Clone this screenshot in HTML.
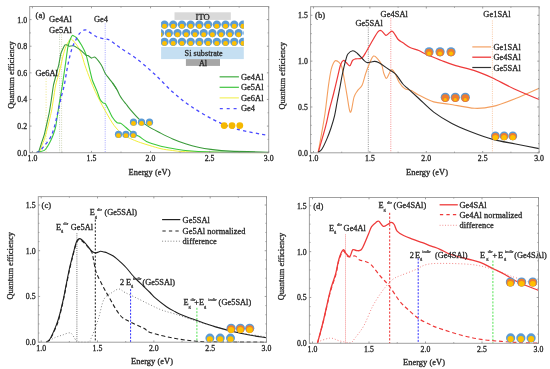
<!DOCTYPE html><html><head><meta charset="utf-8"><style>html,body{margin:0;padding:0;background:#fff;}svg{display:block;filter:blur(0.3px);}</style></head><body>
<svg width="550" height="369" viewBox="0 0 550 369" font-family='"Liberation Serif", serif'>
<style>text{stroke:#262626;stroke-width:0.3px;letter-spacing:0.05px;}</style>
<rect width="550" height="369" fill="#fff"/>
<rect x="174.5" y="12.3" width="56.3" height="7.6" fill="#d9d9d9"/>
<text x="202.7" y="16.70" font-size="8.6" text-anchor="middle" fill="#2a2a2a" dominant-baseline="central" >ITO</text>
<rect x="161.1" y="20" width="82.7" height="27" fill="#ffffff"/>
<clipPath id="inclip"><rect x="161.1" y="20" width="82.7" height="27.2"/></clipPath>
<g clip-path="url(#inclip)">
<circle cx="164.50" cy="24.6" r="4.15" fill="#5b9bd5"/>
<circle cx="164.50" cy="26.20" r="2.45" fill="#ffc000"/>
<circle cx="173.22" cy="24.6" r="4.15" fill="#5b9bd5"/>
<circle cx="173.22" cy="26.20" r="2.45" fill="#ffc000"/>
<circle cx="181.94" cy="24.6" r="4.15" fill="#5b9bd5"/>
<circle cx="181.94" cy="26.20" r="2.45" fill="#ffc000"/>
<circle cx="190.66" cy="24.6" r="4.15" fill="#5b9bd5"/>
<circle cx="190.66" cy="26.20" r="2.45" fill="#ffc000"/>
<circle cx="199.38" cy="24.6" r="4.15" fill="#5b9bd5"/>
<circle cx="199.38" cy="26.20" r="2.45" fill="#ffc000"/>
<circle cx="208.10" cy="24.6" r="4.15" fill="#5b9bd5"/>
<circle cx="208.10" cy="26.20" r="2.45" fill="#ffc000"/>
<circle cx="216.82" cy="24.6" r="4.15" fill="#5b9bd5"/>
<circle cx="216.82" cy="26.20" r="2.45" fill="#ffc000"/>
<circle cx="225.54" cy="24.6" r="4.15" fill="#5b9bd5"/>
<circle cx="225.54" cy="26.20" r="2.45" fill="#ffc000"/>
<circle cx="234.26" cy="24.6" r="4.15" fill="#5b9bd5"/>
<circle cx="234.26" cy="26.20" r="2.45" fill="#ffc000"/>
<circle cx="242.98" cy="24.6" r="4.15" fill="#5b9bd5"/>
<circle cx="242.98" cy="26.20" r="2.45" fill="#ffc000"/>
<circle cx="251.70" cy="24.6" r="4.15" fill="#5b9bd5"/>
<circle cx="251.70" cy="26.20" r="2.45" fill="#ffc000"/>
<circle cx="160.10" cy="33.1" r="4.15" fill="#5b9bd5"/>
<circle cx="160.10" cy="34.70" r="2.45" fill="#ffc000"/>
<circle cx="168.82" cy="33.1" r="4.15" fill="#5b9bd5"/>
<circle cx="168.82" cy="34.70" r="2.45" fill="#ffc000"/>
<circle cx="177.54" cy="33.1" r="4.15" fill="#5b9bd5"/>
<circle cx="177.54" cy="34.70" r="2.45" fill="#ffc000"/>
<circle cx="186.26" cy="33.1" r="4.15" fill="#5b9bd5"/>
<circle cx="186.26" cy="34.70" r="2.45" fill="#ffc000"/>
<circle cx="194.98" cy="33.1" r="4.15" fill="#5b9bd5"/>
<circle cx="194.98" cy="34.70" r="2.45" fill="#ffc000"/>
<circle cx="203.70" cy="33.1" r="4.15" fill="#5b9bd5"/>
<circle cx="203.70" cy="34.70" r="2.45" fill="#ffc000"/>
<circle cx="212.42" cy="33.1" r="4.15" fill="#5b9bd5"/>
<circle cx="212.42" cy="34.70" r="2.45" fill="#ffc000"/>
<circle cx="221.14" cy="33.1" r="4.15" fill="#5b9bd5"/>
<circle cx="221.14" cy="34.70" r="2.45" fill="#ffc000"/>
<circle cx="229.86" cy="33.1" r="4.15" fill="#5b9bd5"/>
<circle cx="229.86" cy="34.70" r="2.45" fill="#ffc000"/>
<circle cx="238.58" cy="33.1" r="4.15" fill="#5b9bd5"/>
<circle cx="238.58" cy="34.70" r="2.45" fill="#ffc000"/>
<circle cx="247.30" cy="33.1" r="4.15" fill="#5b9bd5"/>
<circle cx="247.30" cy="34.70" r="2.45" fill="#ffc000"/>
<circle cx="164.50" cy="41.8" r="4.15" fill="#5b9bd5"/>
<circle cx="164.50" cy="43.40" r="2.45" fill="#ffc000"/>
<circle cx="173.22" cy="41.8" r="4.15" fill="#5b9bd5"/>
<circle cx="173.22" cy="43.40" r="2.45" fill="#ffc000"/>
<circle cx="181.94" cy="41.8" r="4.15" fill="#5b9bd5"/>
<circle cx="181.94" cy="43.40" r="2.45" fill="#ffc000"/>
<circle cx="190.66" cy="41.8" r="4.15" fill="#5b9bd5"/>
<circle cx="190.66" cy="43.40" r="2.45" fill="#ffc000"/>
<circle cx="199.38" cy="41.8" r="4.15" fill="#5b9bd5"/>
<circle cx="199.38" cy="43.40" r="2.45" fill="#ffc000"/>
<circle cx="208.10" cy="41.8" r="4.15" fill="#5b9bd5"/>
<circle cx="208.10" cy="43.40" r="2.45" fill="#ffc000"/>
<circle cx="216.82" cy="41.8" r="4.15" fill="#5b9bd5"/>
<circle cx="216.82" cy="43.40" r="2.45" fill="#ffc000"/>
<circle cx="225.54" cy="41.8" r="4.15" fill="#5b9bd5"/>
<circle cx="225.54" cy="43.40" r="2.45" fill="#ffc000"/>
<circle cx="234.26" cy="41.8" r="4.15" fill="#5b9bd5"/>
<circle cx="234.26" cy="43.40" r="2.45" fill="#ffc000"/>
<circle cx="242.98" cy="41.8" r="4.15" fill="#5b9bd5"/>
<circle cx="242.98" cy="43.40" r="2.45" fill="#ffc000"/>
<circle cx="251.70" cy="41.8" r="4.15" fill="#5b9bd5"/>
<circle cx="251.70" cy="43.40" r="2.45" fill="#ffc000"/>
</g>
<rect x="161.1" y="47" width="82.7" height="12.1" fill="#c5dff2"/>
<text x="203.7" y="53.40" font-size="8.1" text-anchor="middle" fill="#2a2a2a" dominant-baseline="central" >Si substrate</text>
<rect x="185.9" y="59.1" width="34.1" height="6.8" fill="#a6a6a6"/>
<text x="203" y="63.00" font-size="8.0" text-anchor="middle" fill="#2a2a2a" dominant-baseline="central" >Al</text>
<line x1="46.1" y1="78.5" x2="46.1" y2="152.7" stroke="#e8e070" stroke-width="0.8" stroke-dasharray="1,1.6"/>
<line x1="59.6" y1="34.5" x2="59.6" y2="152.7" stroke="#b0c0a0" stroke-width="0.8" stroke-dasharray="0.9,1.4"/>
<line x1="61.6" y1="34.5" x2="61.6" y2="152.7" stroke="#c0c8a0" stroke-width="0.8" stroke-dasharray="0.9,1.4"/>
<line x1="105.2" y1="23.5" x2="105.2" y2="152.7" stroke="#8080ff" stroke-width="0.7" stroke-dasharray="1,1.2"/>
<path d="M36.40,152.50 C36.83,152.37 38.79,152.63 39.60,151.50 C40.41,150.37 41.74,146.04 42.50,144.00 C43.26,141.96 44.17,140.28 45.30,136.20 C46.43,132.12 49.93,118.23 51.00,113.40 C52.07,108.57 52.67,103.79 53.30,100.00 C53.93,96.21 55.01,88.33 55.70,85.00 C56.39,81.67 57.79,77.67 58.50,75.00 C59.21,72.33 60.40,67.53 61.00,65.00 C61.60,62.47 62.36,58.43 63.00,56.00 C63.64,53.57 65.07,48.73 65.80,46.80 C66.53,44.87 67.77,42.54 68.50,41.50 C69.23,40.46 70.13,38.44 71.30,39.00 C72.47,39.56 75.93,43.65 77.30,45.70 C78.67,47.75 80.59,51.80 81.60,54.40 C82.61,57.00 83.73,61.79 84.90,65.20 C86.07,68.61 89.03,76.51 90.40,80.00 C91.77,83.49 93.80,88.36 95.20,91.40 C96.60,94.44 99.38,99.89 100.90,102.80 C102.42,105.71 104.83,110.16 106.60,113.20 C108.37,116.24 111.92,122.68 114.20,125.60 C116.48,128.52 120.50,132.94 123.70,135.10 C126.90,137.26 133.36,140.01 138.20,141.80 C143.04,143.59 155.40,147.34 160.00,148.50 C164.60,149.66 169.30,150.07 172.70,150.50 C176.10,150.93 177.86,151.43 185.50,151.70 C193.14,151.97 218.91,152.38 230.00,152.50 C241.09,152.62 263.54,152.59 268.70,152.60" fill="none" stroke="#f2ef3a" stroke-width="1.0" stroke-linejoin="round" opacity="1"/>
<path d="M36.40,152.50 C36.64,152.45 39.47,151.94 40.00,151.80 C40.53,151.66 43.90,150.75 44.40,150.40 C44.90,150.05 47.06,147.19 47.50,146.50 C47.94,145.81 50.60,140.83 51.00,140.00 C51.40,139.17 53.19,134.89 53.50,134.00 C53.81,133.11 55.36,128.45 55.70,126.70 C56.04,124.95 58.28,109.75 58.60,107.70 C58.92,105.65 60.25,97.51 60.50,96.00 C60.75,94.49 62.15,86.60 62.40,85.00 C62.65,83.40 64.11,73.32 64.30,72.00 C64.49,70.68 65.07,66.80 65.30,65.20 C65.53,63.60 67.39,49.68 67.70,48.00 C68.01,46.32 69.69,40.84 70.00,40.00 C70.31,39.16 71.99,35.57 72.40,35.40 C72.81,35.23 75.59,36.85 76.20,37.50 C76.81,38.15 80.95,44.07 81.60,45.20 C82.25,46.33 85.53,53.07 86.00,54.40 C86.47,55.73 88.28,63.49 88.70,65.20 C89.12,66.91 91.74,78.25 92.30,80.00 C92.86,81.75 96.59,90.11 97.10,91.40 C97.61,92.69 99.61,98.53 100.00,99.30 C100.39,100.07 102.63,102.60 103.00,102.90 C103.37,103.20 105.13,103.35 105.50,103.80 C105.87,104.25 108.05,108.72 108.50,109.60 C108.95,110.48 111.63,116.12 112.20,117.00 C112.77,117.88 116.53,122.38 117.10,122.80 C117.67,123.22 120.21,123.08 120.70,123.30 C121.19,123.52 123.83,125.63 124.40,126.10 C124.97,126.57 128.49,129.79 129.30,130.40 C130.11,131.01 135.89,134.76 136.60,135.20 C137.31,135.64 139.30,136.56 140.00,137.00 C140.70,137.44 145.77,141.20 147.10,141.80 C148.43,142.40 158.29,145.55 160.00,146.00 C161.71,146.45 171.00,148.20 172.70,148.50 C174.40,148.80 183.80,150.30 185.50,150.50 C187.20,150.70 195.23,151.37 198.20,151.50 C201.17,151.63 225.30,152.33 230.00,152.40 C234.70,152.47 266.12,152.49 268.70,152.50" fill="none" stroke="#3cc83c" stroke-width="1.1" stroke-linejoin="round" opacity="1"/>
<path d="M36.40,152.50 C36.52,152.45 38.45,151.97 38.70,151.50 C38.96,151.03 41.22,143.86 41.50,143.00 C41.78,142.14 44.02,135.78 44.40,134.30 C44.78,132.82 48.76,115.12 49.10,113.40 C49.45,111.69 51.08,101.42 51.30,100.00 C51.52,98.58 53.13,86.74 53.50,85.00 C53.87,83.26 58.33,66.78 58.70,65.20 C59.07,63.62 60.60,54.41 60.90,53.40 C61.20,52.39 64.38,45.52 64.70,45.10 C65.03,44.68 67.18,44.95 67.40,45.00 C67.62,45.05 68.80,46.16 69.10,46.20 C69.40,46.24 72.99,45.71 73.40,45.80 C73.81,45.88 76.94,47.68 77.30,47.90 C77.66,48.12 80.06,49.73 80.50,50.10 C80.94,50.47 85.62,55.03 86.00,55.30 C86.38,55.57 87.72,55.36 88.00,55.50 C88.28,55.64 91.29,58.02 91.60,58.10 C91.91,58.18 93.99,57.02 94.20,57.00 C94.41,56.98 95.57,57.58 95.80,57.80 C96.03,58.02 98.52,60.94 98.80,61.30 C99.08,61.66 101.11,64.69 101.30,65.00 C101.49,65.31 102.39,67.16 102.60,67.60 C102.80,68.04 104.91,73.03 105.40,73.80 C105.90,74.56 111.93,82.12 112.50,82.90 C113.07,83.68 116.58,89.08 116.80,89.40" fill="none" stroke="#3a9a3a" stroke-width="1.1" stroke-linejoin="round" opacity="1"/>
<path d="M112.50,82.90 C113.22,83.98 115.53,87.22 116.80,89.40 C118.07,91.58 119.10,94.23 120.10,96.00 C121.10,97.77 121.82,98.67 122.80,100.00 C123.78,101.33 124.80,102.48 126.00,104.00 C127.20,105.52 127.82,106.58 130.00,109.10 C132.18,111.62 136.07,116.22 139.10,119.10 C142.13,121.98 144.72,124.12 148.20,126.40 C151.68,128.68 155.92,130.70 160.00,132.80 C164.08,134.90 168.45,137.17 172.70,139.00 C176.95,140.83 181.25,142.42 185.50,143.80 C189.75,145.18 193.97,146.37 198.20,147.30 C202.43,148.23 205.60,148.77 210.90,149.40 C216.20,150.03 220.37,150.63 230.00,151.10 C239.63,151.57 262.25,152.02 268.70,152.20" fill="none" stroke="#3a9a3a" stroke-width="1.1" stroke-linejoin="round" opacity="1"/>
<path d="M36.40,152.50 C36.93,152.32 38.27,152.53 39.60,151.40 C40.93,150.27 42.65,147.92 44.40,145.70 C46.15,143.48 48.52,140.95 50.10,138.10 C51.68,135.25 52.65,132.72 53.90,128.60 C55.15,124.48 56.35,118.77 57.60,113.40 C58.85,108.03 60.28,101.13 61.40,96.40 C62.52,91.67 63.20,90.35 64.30,85.00 C65.40,79.65 66.75,70.30 68.00,64.30 C69.25,58.30 70.62,52.82 71.80,49.00 C72.98,45.18 73.83,43.95 75.10,41.40 C76.37,38.85 77.77,35.62 79.40,33.70 C81.03,31.78 83.25,30.17 84.90,29.90 C86.55,29.63 87.30,30.92 89.30,32.10 C91.30,33.28 94.37,35.88 96.90,37.00 C99.43,38.12 102.32,38.25 104.50,38.80 C106.68,39.35 107.42,38.82 110.00,40.30 C112.58,41.78 115.60,44.65 120.00,47.70 C124.40,50.75 130.65,54.20 136.40,58.60 C142.15,63.00 148.45,68.53 154.50,74.10 C160.55,79.67 166.70,86.68 172.70,92.00 C178.70,97.32 183.73,101.40 190.50,106.00 C197.27,110.60 205.72,115.80 213.30,119.60 C220.88,123.40 226.77,126.13 236.00,128.80 C245.23,131.47 263.25,134.47 268.70,135.60" fill="none" stroke="#4848ff" stroke-width="1.3" stroke-dasharray="3.2,3.2" stroke-linejoin="round" opacity="1"/>
<circle cx="118.50" cy="134.40" r="3.6" fill="#5b9bd5"/>
<circle cx="118.50" cy="135.60" r="2.45" fill="#ffc000"/>
<circle cx="125.90" cy="134.40" r="3.6" fill="#5b9bd5"/>
<circle cx="125.90" cy="135.60" r="2.45" fill="#ffc000"/>
<circle cx="133.30" cy="134.40" r="3.6" fill="#5b9bd5"/>
<circle cx="133.30" cy="135.60" r="2.45" fill="#ffc000"/>
<circle cx="133.50" cy="122.20" r="3.6" fill="#5b9bd5"/>
<circle cx="133.50" cy="123.40" r="2.45" fill="#ffc000"/>
<circle cx="141.50" cy="122.20" r="3.6" fill="#5b9bd5"/>
<circle cx="141.50" cy="123.40" r="2.45" fill="#ffc000"/>
<circle cx="149.50" cy="122.20" r="3.6" fill="#5b9bd5"/>
<circle cx="149.50" cy="123.40" r="2.45" fill="#ffc000"/>
<circle cx="224.20" cy="125.60" r="3.4" fill="#f5b800"/>
<circle cx="232.00" cy="125.60" r="3.4" fill="#f5b800"/>
<circle cx="239.80" cy="125.60" r="3.4" fill="#f5b800"/>
<line x1="219.6" y1="76.8" x2="238.9" y2="76.8" stroke="#5cb85c" stroke-width="1.4"/>
<line x1="219.6" y1="87.3" x2="238.9" y2="87.3" stroke="#40c440" stroke-width="1.2"/>
<line x1="219.6" y1="97.9" x2="238.9" y2="97.9" stroke="#f0ee40" stroke-width="1.0"/>
<line x1="219.8" y1="108.6" x2="237.5" y2="108.6" stroke="#5050ff" stroke-width="1.3" stroke-dasharray="3,3.9"/>
<text x="241" y="77.30" font-size="8.4" text-anchor="start" fill="#2a2a2a" dominant-baseline="central" >Ge4Al</text>
<text x="241" y="87.80" font-size="8.4" text-anchor="start" fill="#2a2a2a" dominant-baseline="central" >Ge5Al</text>
<text x="241" y="98.40" font-size="8.4" text-anchor="start" fill="#2a2a2a" dominant-baseline="central" >Ge6Al</text>
<text x="241" y="108.90" font-size="8.4" text-anchor="start" fill="#2a2a2a" dominant-baseline="central" >Ge4</text>
<text x="35.5" y="14.90" font-size="8.6" text-anchor="start" fill="#2a2a2a" dominant-baseline="central" >(a)</text>
<text x="49.0" y="19.20" font-size="8.5" text-anchor="start" fill="#2a2a2a" dominant-baseline="central" >Ge4Al</text>
<text x="49.0" y="29.60" font-size="8.5" text-anchor="start" fill="#2a2a2a" dominant-baseline="central" >Ge5Al</text>
<text x="94" y="19.20" font-size="8.4" text-anchor="start" fill="#2a2a2a" dominant-baseline="central" >Ge4</text>
<text x="35.4" y="73.80" font-size="8.4" text-anchor="start" fill="#2a2a2a" dominant-baseline="central" >Ge6Al</text>
<rect x="29.7" y="6.5" width="239.0" height="146.2" fill="none" stroke="#a0a0a0" stroke-width="1"/>
<line x1="32.40" y1="152.7" x2="32.40" y2="150.89999999999998" stroke="#888" stroke-width="0.8"/>
<line x1="32.40" y1="6.5" x2="32.40" y2="8.3" stroke="#888" stroke-width="0.8"/>
<text x="32.40" y="158.70" font-size="7.8" text-anchor="middle" fill="#2a2a2a" dominant-baseline="central" >1.0</text>
<line x1="61.94" y1="152.7" x2="61.94" y2="151.6" stroke="#888" stroke-width="0.8"/>
<line x1="61.94" y1="6.5" x2="61.94" y2="7.6" stroke="#888" stroke-width="0.8"/>
<line x1="91.47" y1="152.7" x2="91.47" y2="150.89999999999998" stroke="#888" stroke-width="0.8"/>
<line x1="91.47" y1="6.5" x2="91.47" y2="8.3" stroke="#888" stroke-width="0.8"/>
<text x="91.47" y="158.70" font-size="7.8" text-anchor="middle" fill="#2a2a2a" dominant-baseline="central" >1.5</text>
<line x1="121.01" y1="152.7" x2="121.01" y2="151.6" stroke="#888" stroke-width="0.8"/>
<line x1="121.01" y1="6.5" x2="121.01" y2="7.6" stroke="#888" stroke-width="0.8"/>
<line x1="150.55" y1="152.7" x2="150.55" y2="150.89999999999998" stroke="#888" stroke-width="0.8"/>
<line x1="150.55" y1="6.5" x2="150.55" y2="8.3" stroke="#888" stroke-width="0.8"/>
<text x="150.55" y="158.70" font-size="7.8" text-anchor="middle" fill="#2a2a2a" dominant-baseline="central" >2.0</text>
<line x1="180.09" y1="152.7" x2="180.09" y2="151.6" stroke="#888" stroke-width="0.8"/>
<line x1="180.09" y1="6.5" x2="180.09" y2="7.6" stroke="#888" stroke-width="0.8"/>
<line x1="209.63" y1="152.7" x2="209.63" y2="150.89999999999998" stroke="#888" stroke-width="0.8"/>
<line x1="209.63" y1="6.5" x2="209.63" y2="8.3" stroke="#888" stroke-width="0.8"/>
<text x="209.63" y="158.70" font-size="7.8" text-anchor="middle" fill="#2a2a2a" dominant-baseline="central" >2.5</text>
<line x1="239.16" y1="152.7" x2="239.16" y2="151.6" stroke="#888" stroke-width="0.8"/>
<line x1="239.16" y1="6.5" x2="239.16" y2="7.6" stroke="#888" stroke-width="0.8"/>
<line x1="268.70" y1="152.7" x2="268.70" y2="150.89999999999998" stroke="#888" stroke-width="0.8"/>
<line x1="268.70" y1="6.5" x2="268.70" y2="8.3" stroke="#888" stroke-width="0.8"/>
<text x="268.70" y="158.70" font-size="7.8" text-anchor="middle" fill="#2a2a2a" dominant-baseline="central" >3.0</text>
<line x1="29.7" y1="152.70" x2="31.5" y2="152.70" stroke="#888" stroke-width="0.8"/>
<line x1="268.7" y1="152.70" x2="266.9" y2="152.70" stroke="#888" stroke-width="0.8"/>
<line x1="29.7" y1="139.39" x2="30.8" y2="139.39" stroke="#888" stroke-width="0.8"/>
<line x1="268.7" y1="139.39" x2="267.59999999999997" y2="139.39" stroke="#888" stroke-width="0.8"/>
<line x1="29.7" y1="126.08" x2="31.5" y2="126.08" stroke="#888" stroke-width="0.8"/>
<line x1="268.7" y1="126.08" x2="266.9" y2="126.08" stroke="#888" stroke-width="0.8"/>
<line x1="29.7" y1="112.77" x2="30.8" y2="112.77" stroke="#888" stroke-width="0.8"/>
<line x1="268.7" y1="112.77" x2="267.59999999999997" y2="112.77" stroke="#888" stroke-width="0.8"/>
<line x1="29.7" y1="99.46" x2="31.5" y2="99.46" stroke="#888" stroke-width="0.8"/>
<line x1="268.7" y1="99.46" x2="266.9" y2="99.46" stroke="#888" stroke-width="0.8"/>
<line x1="29.7" y1="86.15" x2="30.8" y2="86.15" stroke="#888" stroke-width="0.8"/>
<line x1="268.7" y1="86.15" x2="267.59999999999997" y2="86.15" stroke="#888" stroke-width="0.8"/>
<line x1="29.7" y1="72.84" x2="31.5" y2="72.84" stroke="#888" stroke-width="0.8"/>
<line x1="268.7" y1="72.84" x2="266.9" y2="72.84" stroke="#888" stroke-width="0.8"/>
<line x1="29.7" y1="59.53" x2="30.8" y2="59.53" stroke="#888" stroke-width="0.8"/>
<line x1="268.7" y1="59.53" x2="267.59999999999997" y2="59.53" stroke="#888" stroke-width="0.8"/>
<line x1="29.7" y1="46.22" x2="31.5" y2="46.22" stroke="#888" stroke-width="0.8"/>
<line x1="268.7" y1="46.22" x2="266.9" y2="46.22" stroke="#888" stroke-width="0.8"/>
<line x1="29.7" y1="32.91" x2="30.8" y2="32.91" stroke="#888" stroke-width="0.8"/>
<line x1="268.7" y1="32.91" x2="267.59999999999997" y2="32.91" stroke="#888" stroke-width="0.8"/>
<line x1="29.7" y1="19.60" x2="31.5" y2="19.60" stroke="#888" stroke-width="0.8"/>
<line x1="268.7" y1="19.60" x2="266.9" y2="19.60" stroke="#888" stroke-width="0.8"/>
<text x="27.099999999999998" y="153.20" font-size="7.8" text-anchor="end" fill="#2a2a2a" dominant-baseline="central" >0.0</text>
<text x="27.099999999999998" y="126.58" font-size="7.8" text-anchor="end" fill="#2a2a2a" dominant-baseline="central" >0.2</text>
<text x="27.099999999999998" y="99.96" font-size="7.8" text-anchor="end" fill="#2a2a2a" dominant-baseline="central" >0.4</text>
<text x="27.099999999999998" y="73.34" font-size="7.8" text-anchor="end" fill="#2a2a2a" dominant-baseline="central" >0.6</text>
<text x="27.099999999999998" y="46.72" font-size="7.8" text-anchor="end" fill="#2a2a2a" dominant-baseline="central" >0.8</text>
<text x="27.099999999999998" y="20.10" font-size="7.8" text-anchor="end" fill="#2a2a2a" dominant-baseline="central" >1.0</text>
<text x="149.5" y="172.10" font-size="8.4" text-anchor="middle" fill="#2a2a2a" dominant-baseline="central" >Energy (eV)</text>
<text x="0" y="0" font-size="8.4" text-anchor="middle" fill="#2a2a2a" dominant-baseline="central" transform="translate(11,75) rotate(-90)">Quantum efficiency</text>
<line x1="368.3" y1="27.3" x2="368.3" y2="152.8" stroke="#606060" stroke-width="0.7" stroke-dasharray="1,1.2"/>
<line x1="390.8" y1="18.2" x2="390.8" y2="152.8" stroke="#f06060" stroke-width="0.7" stroke-dasharray="1,1.2"/>
<line x1="492.4" y1="20.5" x2="492.4" y2="152.8" stroke="#f5b080" stroke-width="0.7" stroke-dasharray="1,1.2"/>
<path d="M318.20,152.30 C318.75,149.25 320.37,140.47 321.50,134.00 C322.63,127.53 323.83,121.62 325.00,113.50 C326.17,105.38 327.47,92.65 328.50,85.30 C329.53,77.95 330.37,73.12 331.20,69.40 C332.03,65.68 332.77,64.47 333.50,63.00 C334.23,61.53 334.67,60.70 335.60,60.60 C336.53,60.50 338.07,61.37 339.10,62.40 C340.13,63.43 340.92,63.87 341.80,66.80 C342.68,69.73 343.52,75.15 344.40,80.00 C345.28,84.85 346.22,90.75 347.10,95.90 C347.98,101.05 348.97,108.55 349.70,110.90 C350.43,113.25 350.77,112.35 351.50,110.00 C352.23,107.65 353.08,100.03 354.10,96.80 C355.12,93.57 356.27,92.52 357.60,90.60 C358.93,88.68 360.77,88.10 362.10,85.30 C363.43,82.50 364.37,77.43 365.60,73.80 C366.83,70.17 368.18,66.45 369.50,63.50 C370.82,60.55 372.15,56.88 373.50,56.10 C374.85,55.32 376.23,57.33 377.60,58.80 C378.97,60.27 380.68,62.53 381.70,64.90 C382.72,67.27 382.92,70.75 383.70,73.00 C384.48,75.25 385.50,78.28 386.40,78.40 C387.30,78.52 388.20,75.17 389.10,73.70 C390.00,72.23 390.78,69.60 391.80,69.60 C392.82,69.60 393.95,71.55 395.20,73.70 C396.45,75.85 397.72,80.02 399.30,82.50 C400.88,84.98 402.68,87.25 404.70,88.60 C406.72,89.95 409.15,89.58 411.40,90.60 C413.65,91.62 414.48,92.82 418.20,94.70 C421.92,96.58 428.47,100.32 433.70,101.90 C438.93,103.48 442.78,103.13 449.60,104.20 C456.42,105.27 467.38,107.93 474.60,108.30 C481.82,108.67 486.07,108.03 492.90,106.40 C499.73,104.77 507.90,101.53 515.60,98.50 C523.30,95.47 535.18,89.92 539.10,88.20" fill="none" stroke="#f4a060" stroke-width="1.1" stroke-linejoin="round" opacity="1"/>
<path d="M318.20,152.30 C319.42,148.07 323.65,133.95 325.50,126.90 C327.35,119.85 327.97,115.48 329.30,110.00 C330.63,104.52 332.07,99.72 333.50,94.00 C334.93,88.28 336.73,80.53 337.90,75.70 C339.07,70.87 339.60,67.53 340.50,65.00 C341.40,62.47 342.35,60.92 343.30,60.50 C344.25,60.08 345.12,61.62 346.20,62.50 C347.28,63.38 348.75,66.13 349.80,65.80 C350.85,65.47 351.55,61.65 352.50,60.50 C353.45,59.35 353.93,59.32 355.50,58.90 C357.07,58.48 360.07,59.28 361.90,58.00 C363.73,56.72 364.98,53.65 366.50,51.20 C368.02,48.75 369.10,46.52 371.00,43.30 C372.90,40.08 376.18,34.00 377.90,31.90 C379.62,29.80 379.98,30.13 381.30,30.70 C382.62,31.27 384.48,34.92 385.80,35.30 C387.12,35.68 388.05,33.65 389.20,33.00 C390.35,32.35 391.20,30.32 392.70,31.40 C394.20,32.48 396.48,37.60 398.20,39.50 C399.92,41.40 401.03,41.47 403.00,42.80 C404.97,44.13 407.37,46.22 410.00,47.50 C412.63,48.78 415.95,49.28 418.80,50.50 C421.65,51.72 423.45,53.18 427.10,54.80 C430.75,56.42 436.18,58.48 440.70,60.20 C445.22,61.92 448.33,63.28 454.20,65.10 C460.07,66.92 469.58,68.98 475.90,71.10 C482.22,73.22 485.78,74.87 492.10,77.80 C498.42,80.73 505.97,85.08 513.80,88.70 C521.63,92.32 534.88,97.70 539.10,99.50" fill="none" stroke="#ee3a3a" stroke-width="1.2" stroke-linejoin="round" opacity="1"/>
<path d="M318.20,152.30 C318.83,151.75 320.53,151.28 322.00,149.00 C323.47,146.72 325.50,142.10 327.00,138.60 C328.50,135.10 329.73,131.83 331.00,128.00 C332.27,124.17 333.55,120.10 334.60,115.60 C335.65,111.10 336.38,105.85 337.30,101.00 C338.22,96.15 339.32,90.67 340.10,86.50 C340.88,82.33 341.35,79.28 342.00,76.00 C342.65,72.72 343.35,69.55 344.00,66.80 C344.65,64.05 345.25,61.63 345.90,59.50 C346.55,57.37 346.75,55.45 347.90,54.00 C349.05,52.55 351.22,50.88 352.80,50.80 C354.38,50.72 355.68,52.05 357.40,53.50 C359.12,54.95 361.52,58.00 363.10,59.50 C364.68,61.00 365.58,62.08 366.90,62.50 C368.22,62.92 369.73,62.18 371.00,62.00 C372.27,61.82 373.25,61.32 374.50,61.40 C375.75,61.48 377.23,61.93 378.50,62.50 C379.77,63.07 380.12,63.47 382.10,64.80 C384.08,66.13 388.07,68.87 390.40,70.50 C392.73,72.13 394.02,72.35 396.10,74.60 C398.18,76.85 401.00,81.73 402.90,84.00 C404.80,86.27 404.85,85.78 407.50,88.20 C410.15,90.62 414.43,94.52 418.80,98.50 C423.17,102.48 428.18,107.93 433.70,112.10 C439.22,116.27 445.83,120.27 451.90,123.50 C457.97,126.73 463.27,128.85 470.10,131.50 C476.93,134.15 485.32,137.32 492.90,139.40 C500.48,141.48 507.90,142.47 515.60,144.00 C523.30,145.53 535.18,147.83 539.10,148.60" fill="none" stroke="#2a2a2a" stroke-width="1.1" stroke-linejoin="round" opacity="1"/>
<circle cx="429.10" cy="51.80" r="4.6" fill="#5b9bd5"/>
<circle cx="429.10" cy="52.50" r="3.86" fill="#ed7d31"/>
<circle cx="429.10" cy="53.50" r="2.07" fill="#ffc000"/>
<circle cx="440.05" cy="51.80" r="4.6" fill="#5b9bd5"/>
<circle cx="440.05" cy="52.50" r="3.86" fill="#ed7d31"/>
<circle cx="440.05" cy="53.50" r="2.07" fill="#ffc000"/>
<circle cx="451.00" cy="51.80" r="4.6" fill="#5b9bd5"/>
<circle cx="451.00" cy="52.50" r="3.86" fill="#ed7d31"/>
<circle cx="451.00" cy="53.50" r="2.07" fill="#ffc000"/>
<circle cx="445.30" cy="97.30" r="4.6" fill="#5b9bd5"/>
<circle cx="445.30" cy="98.10" r="3.91" fill="#ed7d31"/>
<circle cx="445.30" cy="99.50" r="1.61" fill="#ffc000"/>
<circle cx="455.30" cy="97.30" r="4.6" fill="#5b9bd5"/>
<circle cx="455.30" cy="98.10" r="3.91" fill="#ed7d31"/>
<circle cx="455.30" cy="99.50" r="1.61" fill="#ffc000"/>
<circle cx="465.30" cy="97.30" r="4.6" fill="#5b9bd5"/>
<circle cx="465.30" cy="98.10" r="3.91" fill="#ed7d31"/>
<circle cx="465.30" cy="99.50" r="1.61" fill="#ffc000"/>
<circle cx="495.40" cy="135.90" r="4.4" fill="#5b9bd5"/>
<circle cx="495.40" cy="136.60" r="3.70" fill="#ed7d31"/>
<circle cx="495.40" cy="137.60" r="2.64" fill="#ffc000"/>
<circle cx="504.10" cy="135.90" r="4.4" fill="#5b9bd5"/>
<circle cx="504.10" cy="136.60" r="3.70" fill="#ed7d31"/>
<circle cx="504.10" cy="137.60" r="2.64" fill="#ffc000"/>
<circle cx="512.80" cy="135.90" r="4.4" fill="#5b9bd5"/>
<circle cx="512.80" cy="136.60" r="3.70" fill="#ed7d31"/>
<circle cx="512.80" cy="137.60" r="2.64" fill="#ffc000"/>
<line x1="472.3" y1="46.9" x2="491.1" y2="46.9" stroke="#f5a870" stroke-width="1.3"/>
<line x1="472.3" y1="57.2" x2="491.1" y2="57.2" stroke="#ee3a3a" stroke-width="1.3"/>
<line x1="472.3" y1="67.5" x2="491.1" y2="67.5" stroke="#333333" stroke-width="1.2"/>
<text x="493.5" y="47.40" font-size="8.4" text-anchor="start" fill="#2a2a2a" dominant-baseline="central" >Ge1SAl</text>
<text x="493.5" y="57.70" font-size="8.4" text-anchor="start" fill="#2a2a2a" dominant-baseline="central" >Ge4SAl</text>
<text x="493.5" y="68.00" font-size="8.4" text-anchor="start" fill="#2a2a2a" dominant-baseline="central" >Ge5SAl</text>
<text x="315.0" y="15.10" font-size="8.6" text-anchor="start" fill="#2a2a2a" dominant-baseline="central" >(b)</text>
<text x="380.6" y="14.20" font-size="8.4" text-anchor="start" fill="#2a2a2a" dominant-baseline="central" >Ge4SAl</text>
<text x="355.5" y="23.70" font-size="8.4" text-anchor="start" fill="#2a2a2a" dominant-baseline="central" >Ge5SAl</text>
<text x="483.3" y="14.20" font-size="8.4" text-anchor="start" fill="#2a2a2a" dominant-baseline="central" >Ge1SAl</text>
<rect x="310.6" y="6.7" width="228.5" height="146.10000000000002" fill="none" stroke="#a0a0a0" stroke-width="1"/>
<line x1="313.50" y1="152.8" x2="313.50" y2="151.0" stroke="#888" stroke-width="0.8"/>
<line x1="313.50" y1="6.7" x2="313.50" y2="8.5" stroke="#888" stroke-width="0.8"/>
<text x="313.50" y="158.80" font-size="7.8" text-anchor="middle" fill="#2a2a2a" dominant-baseline="central" >1.0</text>
<line x1="341.70" y1="152.8" x2="341.70" y2="151.70000000000002" stroke="#888" stroke-width="0.8"/>
<line x1="341.70" y1="6.7" x2="341.70" y2="7.800000000000001" stroke="#888" stroke-width="0.8"/>
<line x1="369.90" y1="152.8" x2="369.90" y2="151.0" stroke="#888" stroke-width="0.8"/>
<line x1="369.90" y1="6.7" x2="369.90" y2="8.5" stroke="#888" stroke-width="0.8"/>
<text x="369.90" y="158.80" font-size="7.8" text-anchor="middle" fill="#2a2a2a" dominant-baseline="central" >1.5</text>
<line x1="398.10" y1="152.8" x2="398.10" y2="151.70000000000002" stroke="#888" stroke-width="0.8"/>
<line x1="398.10" y1="6.7" x2="398.10" y2="7.800000000000001" stroke="#888" stroke-width="0.8"/>
<line x1="426.30" y1="152.8" x2="426.30" y2="151.0" stroke="#888" stroke-width="0.8"/>
<line x1="426.30" y1="6.7" x2="426.30" y2="8.5" stroke="#888" stroke-width="0.8"/>
<text x="426.30" y="158.80" font-size="7.8" text-anchor="middle" fill="#2a2a2a" dominant-baseline="central" >2.0</text>
<line x1="454.50" y1="152.8" x2="454.50" y2="151.70000000000002" stroke="#888" stroke-width="0.8"/>
<line x1="454.50" y1="6.7" x2="454.50" y2="7.800000000000001" stroke="#888" stroke-width="0.8"/>
<line x1="482.70" y1="152.8" x2="482.70" y2="151.0" stroke="#888" stroke-width="0.8"/>
<line x1="482.70" y1="6.7" x2="482.70" y2="8.5" stroke="#888" stroke-width="0.8"/>
<text x="482.70" y="158.80" font-size="7.8" text-anchor="middle" fill="#2a2a2a" dominant-baseline="central" >2.5</text>
<line x1="510.90" y1="152.8" x2="510.90" y2="151.70000000000002" stroke="#888" stroke-width="0.8"/>
<line x1="510.90" y1="6.7" x2="510.90" y2="7.800000000000001" stroke="#888" stroke-width="0.8"/>
<line x1="539.10" y1="152.8" x2="539.10" y2="151.0" stroke="#888" stroke-width="0.8"/>
<line x1="539.10" y1="6.7" x2="539.10" y2="8.5" stroke="#888" stroke-width="0.8"/>
<text x="539.10" y="158.80" font-size="7.8" text-anchor="middle" fill="#2a2a2a" dominant-baseline="central" >3.0</text>
<line x1="310.6" y1="152.80" x2="312.40000000000003" y2="152.80" stroke="#888" stroke-width="0.8"/>
<line x1="539.1" y1="152.80" x2="537.3000000000001" y2="152.80" stroke="#888" stroke-width="0.8"/>
<line x1="310.6" y1="143.63" x2="311.70000000000005" y2="143.63" stroke="#888" stroke-width="0.8"/>
<line x1="539.1" y1="143.63" x2="538.0" y2="143.63" stroke="#888" stroke-width="0.8"/>
<line x1="310.6" y1="134.47" x2="311.70000000000005" y2="134.47" stroke="#888" stroke-width="0.8"/>
<line x1="539.1" y1="134.47" x2="538.0" y2="134.47" stroke="#888" stroke-width="0.8"/>
<line x1="310.6" y1="125.30" x2="311.70000000000005" y2="125.30" stroke="#888" stroke-width="0.8"/>
<line x1="539.1" y1="125.30" x2="538.0" y2="125.30" stroke="#888" stroke-width="0.8"/>
<line x1="310.6" y1="116.13" x2="311.70000000000005" y2="116.13" stroke="#888" stroke-width="0.8"/>
<line x1="539.1" y1="116.13" x2="538.0" y2="116.13" stroke="#888" stroke-width="0.8"/>
<line x1="310.6" y1="106.97" x2="312.40000000000003" y2="106.97" stroke="#888" stroke-width="0.8"/>
<line x1="539.1" y1="106.97" x2="537.3000000000001" y2="106.97" stroke="#888" stroke-width="0.8"/>
<line x1="310.6" y1="97.80" x2="311.70000000000005" y2="97.80" stroke="#888" stroke-width="0.8"/>
<line x1="539.1" y1="97.80" x2="538.0" y2="97.80" stroke="#888" stroke-width="0.8"/>
<line x1="310.6" y1="88.63" x2="311.70000000000005" y2="88.63" stroke="#888" stroke-width="0.8"/>
<line x1="539.1" y1="88.63" x2="538.0" y2="88.63" stroke="#888" stroke-width="0.8"/>
<line x1="310.6" y1="79.46" x2="311.70000000000005" y2="79.46" stroke="#888" stroke-width="0.8"/>
<line x1="539.1" y1="79.46" x2="538.0" y2="79.46" stroke="#888" stroke-width="0.8"/>
<line x1="310.6" y1="70.30" x2="311.70000000000005" y2="70.30" stroke="#888" stroke-width="0.8"/>
<line x1="539.1" y1="70.30" x2="538.0" y2="70.30" stroke="#888" stroke-width="0.8"/>
<line x1="310.6" y1="61.13" x2="312.40000000000003" y2="61.13" stroke="#888" stroke-width="0.8"/>
<line x1="539.1" y1="61.13" x2="537.3000000000001" y2="61.13" stroke="#888" stroke-width="0.8"/>
<line x1="310.6" y1="51.96" x2="311.70000000000005" y2="51.96" stroke="#888" stroke-width="0.8"/>
<line x1="539.1" y1="51.96" x2="538.0" y2="51.96" stroke="#888" stroke-width="0.8"/>
<line x1="310.6" y1="42.80" x2="311.70000000000005" y2="42.80" stroke="#888" stroke-width="0.8"/>
<line x1="539.1" y1="42.80" x2="538.0" y2="42.80" stroke="#888" stroke-width="0.8"/>
<line x1="310.6" y1="33.63" x2="311.70000000000005" y2="33.63" stroke="#888" stroke-width="0.8"/>
<line x1="539.1" y1="33.63" x2="538.0" y2="33.63" stroke="#888" stroke-width="0.8"/>
<line x1="310.6" y1="24.46" x2="311.70000000000005" y2="24.46" stroke="#888" stroke-width="0.8"/>
<line x1="539.1" y1="24.46" x2="538.0" y2="24.46" stroke="#888" stroke-width="0.8"/>
<line x1="310.6" y1="15.30" x2="312.40000000000003" y2="15.30" stroke="#888" stroke-width="0.8"/>
<line x1="539.1" y1="15.30" x2="537.3000000000001" y2="15.30" stroke="#888" stroke-width="0.8"/>
<text x="308.0" y="153.30" font-size="7.8" text-anchor="end" fill="#2a2a2a" dominant-baseline="central" >0.0</text>
<text x="308.0" y="107.47" font-size="7.8" text-anchor="end" fill="#2a2a2a" dominant-baseline="central" >0.5</text>
<text x="308.0" y="61.63" font-size="7.8" text-anchor="end" fill="#2a2a2a" dominant-baseline="central" >1.0</text>
<text x="308.0" y="15.80" font-size="7.8" text-anchor="end" fill="#2a2a2a" dominant-baseline="central" >1.5</text>
<text x="427" y="172.20" font-size="8.4" text-anchor="middle" fill="#2a2a2a" dominant-baseline="central" >Energy (eV)</text>
<text x="0" y="0" font-size="8.4" text-anchor="middle" fill="#2a2a2a" dominant-baseline="central" transform="translate(282,75.8) rotate(-90)">Quantum efficiency</text>
<line x1="76.9" y1="233.3" x2="76.9" y2="342.2" stroke="#404040" stroke-width="0.8" stroke-dasharray="0.9,1.2"/>
<line x1="95.3" y1="219.6" x2="95.3" y2="342.2" stroke="#202020" stroke-width="1.0" stroke-dasharray="2,1.6"/>
<line x1="130.6" y1="289.1" x2="130.6" y2="342.2" stroke="#3030ff" stroke-width="1.0" stroke-dasharray="2,1.4"/>
<line x1="196.9" y1="307.8" x2="196.9" y2="342.2" stroke="#40e040" stroke-width="0.9" stroke-dasharray="2,1.4"/>
<path d="M46.40,342.00 C47.92,341.23 52.85,338.55 55.50,337.40 C58.15,336.25 59.83,335.85 62.30,335.10 C64.77,334.35 68.22,332.32 70.30,332.90 C72.38,333.48 73.77,337.17 74.80,338.60 C75.83,340.03 76.05,340.93 76.50,341.50 C76.95,342.07 75.42,341.92 77.50,342.00 C79.58,342.08 86.85,342.35 89.00,342.00 C91.15,341.65 89.48,341.90 90.40,339.90 C91.32,337.90 93.13,333.62 94.50,330.00 C95.87,326.38 97.02,323.33 98.60,318.20 C100.18,313.07 101.75,303.48 104.00,299.20 C106.25,294.92 109.60,294.20 112.10,292.50 C114.60,290.80 116.85,289.00 119.00,289.00 C121.15,289.00 121.97,290.95 125.00,292.50 C128.03,294.05 133.13,296.32 137.20,298.30 C141.27,300.28 145.33,302.45 149.40,304.40 C153.47,306.35 157.33,308.40 161.60,310.00 C165.87,311.60 170.18,312.47 175.00,314.00 C179.82,315.53 184.12,317.20 190.50,319.20 C196.88,321.20 205.72,323.87 213.30,326.00 C220.88,328.13 227.13,330.17 236.00,332.00 C244.87,333.83 261.42,336.17 266.50,337.00" fill="none" stroke="#7a7a7a" stroke-width="0.9" stroke-dasharray="1,2" stroke-linejoin="round" opacity="1"/>
<path d="M46.40,342.00 C47.00,341.58 48.47,341.83 50.00,339.50 C51.53,337.17 54.10,331.50 55.60,328.00 C57.10,324.50 57.70,323.17 59.00,318.50 C60.30,313.83 62.15,305.67 63.40,300.00 C64.65,294.33 65.40,289.92 66.50,284.50 C67.60,279.08 68.88,272.50 70.00,267.50 C71.12,262.50 72.13,258.58 73.20,254.50 C74.27,250.42 75.45,245.50 76.40,243.00 C77.35,240.50 78.05,239.92 78.90,239.50 C79.75,239.08 80.23,239.50 81.50,240.50 C82.77,241.50 84.92,243.75 86.50,245.50 C88.08,247.25 90.03,249.67 91.00,251.00 C91.97,252.33 91.88,252.03 92.30,253.50 C92.72,254.97 92.97,257.05 93.50,259.80 C94.03,262.55 94.88,267.47 95.50,270.00 C96.12,272.53 95.90,272.17 97.20,275.00 C98.50,277.83 101.27,283.18 103.30,287.00 C105.33,290.82 106.57,293.15 109.40,297.90 C112.23,302.65 116.68,311.43 120.30,315.50 C123.92,319.57 127.10,320.13 131.10,322.30 C135.10,324.47 141.15,326.82 144.30,328.50 C147.45,330.18 145.42,330.85 150.00,332.40 C154.58,333.95 164.53,336.37 171.80,337.80 C179.07,339.23 186.40,340.32 193.60,341.00 C200.80,341.68 202.85,341.70 215.00,341.90 C227.15,342.10 257.92,342.15 266.50,342.20" fill="none" stroke="#202020" stroke-width="1.1" stroke-dasharray="4,2.6" stroke-linejoin="round" opacity="1"/>
<path d="M46.40,342.00 C47.00,341.50 48.47,341.52 50.00,339.00 C51.53,336.48 54.10,330.57 55.60,326.90 C57.10,323.23 57.70,321.68 59.00,317.00 C60.30,312.32 62.15,304.47 63.40,298.80 C64.65,293.13 65.40,288.43 66.50,283.00 C67.60,277.57 68.88,271.12 70.00,266.20 C71.12,261.28 72.13,257.53 73.20,253.50 C74.27,249.47 75.45,244.45 76.40,242.00 C77.35,239.55 78.05,239.22 78.90,238.80 C79.75,238.38 80.23,238.55 81.50,239.50 C82.77,240.45 84.92,242.70 86.50,244.50 C88.08,246.30 89.62,248.92 91.00,250.30 C92.38,251.68 93.72,252.45 94.80,252.80 C95.88,253.15 96.55,252.65 97.50,252.40 C98.45,252.15 99.42,251.37 100.50,251.30 C101.58,251.23 102.93,251.75 104.00,252.00 C105.07,252.25 105.35,252.13 106.90,252.80 C108.45,253.47 110.97,254.40 113.30,256.00 C115.63,257.60 118.70,260.40 120.90,262.40 C123.10,264.40 124.60,265.90 126.50,268.00 C128.40,270.10 130.47,272.92 132.30,275.00 C134.13,277.08 135.67,278.67 137.50,280.50 C139.33,282.33 141.22,284.00 143.30,286.00 C145.38,288.00 147.97,290.47 150.00,292.50 C152.03,294.53 152.75,295.83 155.50,298.20 C158.25,300.57 163.25,304.47 166.50,306.70 C169.75,308.93 172.42,310.22 175.00,311.60 C177.58,312.98 178.90,313.72 182.00,315.00 C185.10,316.28 188.02,317.32 193.60,319.30 C199.18,321.28 207.50,324.53 215.50,326.90 C223.50,329.27 233.10,331.68 241.60,333.50 C250.10,335.32 262.35,337.08 266.50,337.80" fill="none" stroke="#202020" stroke-width="1.1" stroke-linejoin="round" opacity="1"/>
<circle cx="209.90" cy="338.10" r="4.5" fill="#5b9bd5"/>
<circle cx="209.90" cy="339.30" r="3.06" fill="#ffc000"/>
<circle cx="220.20" cy="338.10" r="4.5" fill="#5b9bd5"/>
<circle cx="220.20" cy="339.30" r="3.06" fill="#ffc000"/>
<circle cx="230.50" cy="338.10" r="4.5" fill="#5b9bd5"/>
<circle cx="230.50" cy="339.30" r="3.06" fill="#ffc000"/>
<circle cx="231.10" cy="328.30" r="4.6" fill="#5b9bd5"/>
<circle cx="231.10" cy="329.00" r="3.86" fill="#ed7d31"/>
<circle cx="231.10" cy="330.00" r="3.04" fill="#ffc000"/>
<circle cx="240.40" cy="328.30" r="4.6" fill="#5b9bd5"/>
<circle cx="240.40" cy="329.00" r="3.86" fill="#ed7d31"/>
<circle cx="240.40" cy="330.00" r="3.04" fill="#ffc000"/>
<circle cx="249.70" cy="328.30" r="4.6" fill="#5b9bd5"/>
<circle cx="249.70" cy="329.00" r="3.86" fill="#ed7d31"/>
<circle cx="249.70" cy="330.00" r="3.04" fill="#ffc000"/>
<line x1="162.1" y1="219.6" x2="180.3" y2="219.6" stroke="#222" stroke-width="1.2"/>
<line x1="162.4" y1="231.0" x2="180.3" y2="231.0" stroke="#222" stroke-width="1.2" stroke-dasharray="3.3,3.2"/>
<line x1="162.1" y1="241.2" x2="180.3" y2="241.2" stroke="#777" stroke-width="0.9" stroke-dasharray="1,1.8"/>
<text x="182.6" y="220.10" font-size="8.4" text-anchor="start" fill="#2a2a2a" dominant-baseline="central" >Ge5SAl</text>
<text x="182.6" y="231.50" font-size="8.4" text-anchor="start" fill="#2a2a2a" dominant-baseline="central" >Ge5Al normalized</text>
<text x="182.6" y="241.70" font-size="8.4" text-anchor="start" fill="#2a2a2a" dominant-baseline="central" >difference</text>
<text x="41.6" y="205.10" font-size="8.6" text-anchor="start" fill="#2a2a2a" dominant-baseline="central" >(c)</text>
<text x="89.8" y="212.8" font-size="8.3" fill="#2a2a2a" dominant-baseline="central">E</text>
<text x="94.80" y="216.20" font-size="4.4" fill="#2a2a2a" dominant-baseline="central" style="stroke-width:0.2px">g</text>
<text x="97.00" y="209.00" font-size="4.4" fill="#2a2a2a" dominant-baseline="central" style="stroke-width:0.2px">dir</text>
<text x="104.5" y="212.8" font-size="8.3" fill="#2a2a2a" dominant-baseline="central">(Ge5SAl)</text>
<text x="56.0" y="227.2" font-size="8.3" fill="#2a2a2a" dominant-baseline="central">E</text>
<text x="61.00" y="230.60" font-size="4.4" fill="#2a2a2a" dominant-baseline="central" style="stroke-width:0.2px">g</text>
<text x="63.20" y="223.40" font-size="4.4" fill="#2a2a2a" dominant-baseline="central" style="stroke-width:0.2px">dir</text>
<text x="70.7" y="227.2" font-size="8.3" fill="#2a2a2a" dominant-baseline="central">Ge5Al</text>
<text x="119.9" y="282.00" font-size="8.3" text-anchor="start" fill="#2a2a2a" dominant-baseline="central" >2</text>
<text x="125.9" y="282.0" font-size="8.3" fill="#2a2a2a" dominant-baseline="central">E</text>
<text x="130.90" y="285.40" font-size="4.4" fill="#2a2a2a" dominant-baseline="central" style="stroke-width:0.2px">g</text>
<text x="133.10" y="278.20" font-size="4.4" fill="#2a2a2a" dominant-baseline="central" style="stroke-width:0.2px">indir</text>
<text x="142.5" y="282.0" font-size="8.3" fill="#2a2a2a" dominant-baseline="central">(Ge5SAl)</text>
<text x="183.6" y="302.9" font-size="8.3" fill="#2a2a2a" dominant-baseline="central">E</text>
<text x="188.60" y="306.30" font-size="4.4" fill="#2a2a2a" dominant-baseline="central" style="stroke-width:0.2px">g</text>
<text x="190.60" y="299.10" font-size="4.4" fill="#2a2a2a" dominant-baseline="central" style="stroke-width:0.2px">dir</text>
<text x="194.3" y="302.90" font-size="8.3" text-anchor="start" fill="#2a2a2a" dominant-baseline="central" >+</text>
<text x="198.9" y="302.9" font-size="8.3" fill="#2a2a2a" dominant-baseline="central">E</text>
<text x="203.90" y="306.30" font-size="4.4" fill="#2a2a2a" dominant-baseline="central" style="stroke-width:0.2px">g</text>
<text x="208.20" y="299.10" font-size="4.4" fill="#2a2a2a" dominant-baseline="central" style="stroke-width:0.2px">indir</text>
<text x="218.6" y="302.9" font-size="8.3" fill="#2a2a2a" dominant-baseline="central">(Ge5SAl)</text>
<rect x="38.3" y="196.6" width="228.2" height="145.6" fill="none" stroke="#a0a0a0" stroke-width="1"/>
<line x1="41.20" y1="342.2" x2="41.20" y2="340.4" stroke="#888" stroke-width="0.8"/>
<line x1="41.20" y1="196.6" x2="41.20" y2="198.4" stroke="#888" stroke-width="0.8"/>
<text x="41.20" y="348.50" font-size="7.8" text-anchor="middle" fill="#2a2a2a" dominant-baseline="central" >1.0</text>
<line x1="69.36" y1="342.2" x2="69.36" y2="341.09999999999997" stroke="#888" stroke-width="0.8"/>
<line x1="69.36" y1="196.6" x2="69.36" y2="197.7" stroke="#888" stroke-width="0.8"/>
<line x1="97.53" y1="342.2" x2="97.53" y2="340.4" stroke="#888" stroke-width="0.8"/>
<line x1="97.53" y1="196.6" x2="97.53" y2="198.4" stroke="#888" stroke-width="0.8"/>
<text x="97.53" y="348.50" font-size="7.8" text-anchor="middle" fill="#2a2a2a" dominant-baseline="central" >1.5</text>
<line x1="125.69" y1="342.2" x2="125.69" y2="341.09999999999997" stroke="#888" stroke-width="0.8"/>
<line x1="125.69" y1="196.6" x2="125.69" y2="197.7" stroke="#888" stroke-width="0.8"/>
<line x1="153.85" y1="342.2" x2="153.85" y2="340.4" stroke="#888" stroke-width="0.8"/>
<line x1="153.85" y1="196.6" x2="153.85" y2="198.4" stroke="#888" stroke-width="0.8"/>
<text x="153.85" y="348.50" font-size="7.8" text-anchor="middle" fill="#2a2a2a" dominant-baseline="central" >2.0</text>
<line x1="182.01" y1="342.2" x2="182.01" y2="341.09999999999997" stroke="#888" stroke-width="0.8"/>
<line x1="182.01" y1="196.6" x2="182.01" y2="197.7" stroke="#888" stroke-width="0.8"/>
<line x1="210.18" y1="342.2" x2="210.18" y2="340.4" stroke="#888" stroke-width="0.8"/>
<line x1="210.18" y1="196.6" x2="210.18" y2="198.4" stroke="#888" stroke-width="0.8"/>
<text x="210.18" y="348.50" font-size="7.8" text-anchor="middle" fill="#2a2a2a" dominant-baseline="central" >2.5</text>
<line x1="238.34" y1="342.2" x2="238.34" y2="341.09999999999997" stroke="#888" stroke-width="0.8"/>
<line x1="238.34" y1="196.6" x2="238.34" y2="197.7" stroke="#888" stroke-width="0.8"/>
<line x1="266.50" y1="342.2" x2="266.50" y2="340.4" stroke="#888" stroke-width="0.8"/>
<line x1="266.50" y1="196.6" x2="266.50" y2="198.4" stroke="#888" stroke-width="0.8"/>
<text x="266.50" y="348.50" font-size="7.8" text-anchor="middle" fill="#2a2a2a" dominant-baseline="central" >3.0</text>
<line x1="38.3" y1="342.20" x2="40.099999999999994" y2="342.20" stroke="#888" stroke-width="0.8"/>
<line x1="266.5" y1="342.20" x2="264.7" y2="342.20" stroke="#888" stroke-width="0.8"/>
<line x1="38.3" y1="333.05" x2="39.4" y2="333.05" stroke="#888" stroke-width="0.8"/>
<line x1="266.5" y1="333.05" x2="265.4" y2="333.05" stroke="#888" stroke-width="0.8"/>
<line x1="38.3" y1="323.91" x2="39.4" y2="323.91" stroke="#888" stroke-width="0.8"/>
<line x1="266.5" y1="323.91" x2="265.4" y2="323.91" stroke="#888" stroke-width="0.8"/>
<line x1="38.3" y1="314.76" x2="39.4" y2="314.76" stroke="#888" stroke-width="0.8"/>
<line x1="266.5" y1="314.76" x2="265.4" y2="314.76" stroke="#888" stroke-width="0.8"/>
<line x1="38.3" y1="305.61" x2="39.4" y2="305.61" stroke="#888" stroke-width="0.8"/>
<line x1="266.5" y1="305.61" x2="265.4" y2="305.61" stroke="#888" stroke-width="0.8"/>
<line x1="38.3" y1="296.46" x2="40.099999999999994" y2="296.46" stroke="#888" stroke-width="0.8"/>
<line x1="266.5" y1="296.46" x2="264.7" y2="296.46" stroke="#888" stroke-width="0.8"/>
<line x1="38.3" y1="287.32" x2="39.4" y2="287.32" stroke="#888" stroke-width="0.8"/>
<line x1="266.5" y1="287.32" x2="265.4" y2="287.32" stroke="#888" stroke-width="0.8"/>
<line x1="38.3" y1="278.17" x2="39.4" y2="278.17" stroke="#888" stroke-width="0.8"/>
<line x1="266.5" y1="278.17" x2="265.4" y2="278.17" stroke="#888" stroke-width="0.8"/>
<line x1="38.3" y1="269.02" x2="39.4" y2="269.02" stroke="#888" stroke-width="0.8"/>
<line x1="266.5" y1="269.02" x2="265.4" y2="269.02" stroke="#888" stroke-width="0.8"/>
<line x1="38.3" y1="259.88" x2="39.4" y2="259.88" stroke="#888" stroke-width="0.8"/>
<line x1="266.5" y1="259.88" x2="265.4" y2="259.88" stroke="#888" stroke-width="0.8"/>
<line x1="38.3" y1="250.73" x2="40.099999999999994" y2="250.73" stroke="#888" stroke-width="0.8"/>
<line x1="266.5" y1="250.73" x2="264.7" y2="250.73" stroke="#888" stroke-width="0.8"/>
<line x1="38.3" y1="241.58" x2="39.4" y2="241.58" stroke="#888" stroke-width="0.8"/>
<line x1="266.5" y1="241.58" x2="265.4" y2="241.58" stroke="#888" stroke-width="0.8"/>
<line x1="38.3" y1="232.44" x2="39.4" y2="232.44" stroke="#888" stroke-width="0.8"/>
<line x1="266.5" y1="232.44" x2="265.4" y2="232.44" stroke="#888" stroke-width="0.8"/>
<line x1="38.3" y1="223.29" x2="39.4" y2="223.29" stroke="#888" stroke-width="0.8"/>
<line x1="266.5" y1="223.29" x2="265.4" y2="223.29" stroke="#888" stroke-width="0.8"/>
<line x1="38.3" y1="214.14" x2="39.4" y2="214.14" stroke="#888" stroke-width="0.8"/>
<line x1="266.5" y1="214.14" x2="265.4" y2="214.14" stroke="#888" stroke-width="0.8"/>
<line x1="38.3" y1="205.00" x2="40.099999999999994" y2="205.00" stroke="#888" stroke-width="0.8"/>
<line x1="266.5" y1="205.00" x2="264.7" y2="205.00" stroke="#888" stroke-width="0.8"/>
<text x="35.699999999999996" y="342.70" font-size="7.8" text-anchor="end" fill="#2a2a2a" dominant-baseline="central" >0.0</text>
<text x="35.699999999999996" y="296.96" font-size="7.8" text-anchor="end" fill="#2a2a2a" dominant-baseline="central" >0.5</text>
<text x="35.699999999999996" y="251.23" font-size="7.8" text-anchor="end" fill="#2a2a2a" dominant-baseline="central" >1.0</text>
<text x="35.699999999999996" y="205.50" font-size="7.8" text-anchor="end" fill="#2a2a2a" dominant-baseline="central" >1.5</text>
<text x="152" y="361.90" font-size="8.4" text-anchor="middle" fill="#2a2a2a" dominant-baseline="central" >Energy (eV)</text>
<text x="0" y="0" font-size="8.4" text-anchor="middle" fill="#2a2a2a" dominant-baseline="central" transform="translate(10,265.8) rotate(-90)">Quantum efficiency</text>
<line x1="345.5" y1="234.4" x2="345.5" y2="343.3" stroke="#f07070" stroke-width="0.8" stroke-dasharray="1,1"/>
<line x1="389.7" y1="212.8" x2="389.7" y2="343.3" stroke="#ee3030" stroke-width="1.0" stroke-dasharray="2.2,1.6"/>
<line x1="418.2" y1="258.3" x2="418.2" y2="343.3" stroke="#3030ff" stroke-width="1.0" stroke-dasharray="2,1.4"/>
<line x1="492.9" y1="260.6" x2="492.9" y2="343.3" stroke="#40e040" stroke-width="0.9" stroke-dasharray="2,1.4"/>
<path d="M317.50,342.00 C319.58,341.35 326.38,338.30 330.00,338.10 C333.62,337.90 336.03,340.02 339.20,340.80 C342.37,341.58 346.87,342.60 349.00,342.80 C351.13,343.00 351.00,342.78 352.00,342.00 C353.00,341.22 353.03,340.80 355.00,338.10 C356.97,335.40 360.87,331.08 363.80,325.80 C366.73,320.52 369.67,311.98 372.60,306.40 C375.53,300.82 378.75,296.12 381.40,292.30 C384.05,288.48 386.40,285.80 388.50,283.50 C390.60,281.20 391.98,279.83 394.00,278.50 C396.02,277.17 397.22,276.88 400.60,275.50 C403.98,274.12 410.00,272.02 414.30,270.20 C418.60,268.38 421.73,265.73 426.40,264.60 C431.07,263.47 434.72,263.40 442.30,263.40 C449.88,263.40 463.55,263.65 471.90,264.60 C480.25,265.55 485.95,267.20 492.40,269.10 C498.85,271.00 502.92,273.35 510.60,276.00 C518.28,278.65 533.85,283.50 538.50,285.00" fill="none" stroke="#f07a7a" stroke-width="0.9" stroke-dasharray="1,2" stroke-linejoin="round" opacity="1"/>
<path d="M317.50,343.10 C318.45,339.58 321.12,330.35 323.20,322.00 C325.28,313.65 327.92,300.83 330.00,293.00 C332.08,285.17 334.17,280.67 335.70,275.00 C337.23,269.33 337.93,263.00 339.20,259.00 C340.47,255.00 342.17,251.75 343.30,251.00 C344.43,250.25 344.98,253.50 346.00,254.50 C347.02,255.50 347.88,256.75 349.40,257.00 C350.92,257.25 353.40,255.50 355.10,256.00 C356.80,256.50 358.08,259.17 359.60,260.00 C361.12,260.83 362.30,260.23 364.20,261.00 C366.10,261.77 368.35,262.12 371.00,264.60 C373.65,267.08 377.07,272.33 380.10,275.90 C383.13,279.47 385.97,281.82 389.20,286.00 C392.43,290.18 396.37,297.08 399.50,301.00 C402.63,304.92 404.83,306.58 408.00,309.50 C411.17,312.42 414.83,316.00 418.50,318.50 C422.17,321.00 426.85,322.97 430.00,324.50 C433.15,326.03 432.30,325.95 437.40,327.70 C442.50,329.45 453.33,333.05 460.60,335.00 C467.87,336.95 474.20,338.33 481.00,339.40 C487.80,340.47 494.90,340.87 501.40,341.40 C507.90,341.93 513.82,342.30 520.00,342.60 C526.18,342.90 535.42,343.10 538.50,343.20" fill="none" stroke="#ee3a3a" stroke-width="1.2" stroke-dasharray="4,2.8" stroke-linejoin="round" opacity="1"/>
<path d="M317.50,343.10 C318.45,339.50 321.12,330.03 323.20,321.50 C325.28,312.97 328.25,298.82 330.00,291.90 C331.75,284.98 332.75,283.03 333.70,280.00 C334.65,276.97 334.78,277.32 335.70,273.70 C336.62,270.08 337.95,262.28 339.20,258.30 C340.45,254.32 342.07,250.60 343.20,249.80 C344.33,249.00 344.90,252.38 346.00,253.50 C347.10,254.62 348.68,257.12 349.80,256.50 C350.92,255.88 351.63,250.80 352.70,249.80 C353.77,248.80 354.78,250.50 356.20,250.50 C357.62,250.50 359.60,251.47 361.20,249.80 C362.80,248.13 364.58,243.13 365.80,240.50 C367.02,237.87 367.53,236.30 368.50,234.00 C369.47,231.70 370.35,228.63 371.60,226.70 C372.85,224.77 374.78,223.30 376.00,222.40 C377.22,221.50 377.68,220.65 378.90,221.30 C380.12,221.95 381.85,225.77 383.30,226.30 C384.75,226.83 386.27,225.15 387.60,224.50 C388.93,223.85 390.20,222.40 391.30,222.40 C392.40,222.40 393.23,223.05 394.20,224.50 C395.17,225.95 395.53,229.27 397.10,231.10 C398.67,232.93 401.05,234.17 403.60,235.50 C406.15,236.83 409.25,237.90 412.40,239.10 C415.55,240.30 419.35,241.53 422.50,242.70 C425.65,243.87 428.38,245.00 431.30,246.10 C434.22,247.20 436.73,247.90 440.00,249.30 C443.27,250.70 446.30,252.88 450.90,254.50 C455.50,256.12 462.72,257.68 467.60,259.00 C472.48,260.32 476.02,260.82 480.20,262.40 C484.38,263.98 488.52,266.45 492.70,268.50 C496.88,270.55 501.12,272.45 505.30,274.70 C509.48,276.95 512.27,279.38 517.80,282.00 C523.33,284.62 535.05,289.00 538.50,290.40" fill="none" stroke="#ee3a3a" stroke-width="1.3" stroke-linejoin="round" opacity="1"/>
<circle cx="510.40" cy="282.00" r="4.6" fill="#5b9bd5"/>
<circle cx="510.40" cy="282.70" r="3.86" fill="#ed7d31"/>
<circle cx="510.40" cy="283.70" r="2.76" fill="#ffc000"/>
<circle cx="521.60" cy="282.00" r="4.6" fill="#5b9bd5"/>
<circle cx="521.60" cy="282.70" r="3.86" fill="#ed7d31"/>
<circle cx="521.60" cy="283.70" r="2.76" fill="#ffc000"/>
<circle cx="532.80" cy="282.00" r="4.6" fill="#5b9bd5"/>
<circle cx="532.80" cy="282.70" r="3.86" fill="#ed7d31"/>
<circle cx="532.80" cy="283.70" r="2.76" fill="#ffc000"/>
<circle cx="510.60" cy="337.90" r="4.6" fill="#5b9bd5"/>
<circle cx="510.60" cy="339.10" r="3.13" fill="#ffc000"/>
<circle cx="520.85" cy="337.90" r="4.6" fill="#5b9bd5"/>
<circle cx="520.85" cy="339.10" r="3.13" fill="#ffc000"/>
<circle cx="531.10" cy="337.90" r="4.6" fill="#5b9bd5"/>
<circle cx="531.10" cy="339.10" r="3.13" fill="#ffc000"/>
<line x1="439.6" y1="204.8" x2="457.8" y2="204.8" stroke="#ee3a3a" stroke-width="1.3"/>
<line x1="439.9" y1="214.6" x2="457.8" y2="214.6" stroke="#ee3a3a" stroke-width="1.2" stroke-dasharray="3.3,3.2"/>
<line x1="439.6" y1="225.3" x2="457.8" y2="225.3" stroke="#f08a8a" stroke-width="0.9" stroke-dasharray="1,1.7"/>
<text x="459.4" y="205.30" font-size="8.4" text-anchor="start" fill="#2a2a2a" dominant-baseline="central" >Ge4SAl</text>
<text x="459.4" y="215.10" font-size="8.4" text-anchor="start" fill="#2a2a2a" dominant-baseline="central" >Ge4Al normalized</text>
<text x="459.4" y="225.80" font-size="8.4" text-anchor="start" fill="#2a2a2a" dominant-baseline="central" >difference</text>
<text x="313.2" y="206.10" font-size="8.6" text-anchor="start" fill="#2a2a2a" dominant-baseline="central" >(d)</text>
<text x="378.6" y="205.9" font-size="8.3" fill="#2a2a2a" dominant-baseline="central">E</text>
<text x="383.60" y="209.30" font-size="4.4" fill="#2a2a2a" dominant-baseline="central" style="stroke-width:0.2px">g</text>
<text x="387.00" y="202.10" font-size="4.4" fill="#2a2a2a" dominant-baseline="central" style="stroke-width:0.2px">dir</text>
<text x="393.6" y="205.9" font-size="8.3" fill="#2a2a2a" dominant-baseline="central">(Ge4SAl)</text>
<text x="329.0" y="228.1" font-size="8.3" fill="#2a2a2a" dominant-baseline="central">E</text>
<text x="334.00" y="231.50" font-size="4.4" fill="#2a2a2a" dominant-baseline="central" style="stroke-width:0.2px">g</text>
<text x="337.00" y="224.30" font-size="4.4" fill="#2a2a2a" dominant-baseline="central" style="stroke-width:0.2px">dir</text>
<text x="343.6" y="228.1" font-size="8.3" fill="#2a2a2a" dominant-baseline="central">Ge4Al</text>
<text x="409.7" y="255.00" font-size="8.3" text-anchor="start" fill="#2a2a2a" dominant-baseline="central" >2</text>
<text x="415.0" y="255.0" font-size="8.3" fill="#2a2a2a" dominant-baseline="central">E</text>
<text x="420.00" y="258.40" font-size="4.4" fill="#2a2a2a" dominant-baseline="central" style="stroke-width:0.2px">g</text>
<text x="422.20" y="251.20" font-size="4.4" fill="#2a2a2a" dominant-baseline="central" style="stroke-width:0.2px">indir</text>
<text x="435.0" y="255.0" font-size="8.3" fill="#2a2a2a" dominant-baseline="central">(Ge4SAl)</text>
<text x="480.1" y="255.0" font-size="8.3" fill="#2a2a2a" dominant-baseline="central">E</text>
<text x="486.30" y="258.40" font-size="4.4" fill="#2a2a2a" dominant-baseline="central" style="stroke-width:0.2px">g</text>
<text x="487.70" y="251.20" font-size="4.4" fill="#2a2a2a" dominant-baseline="central" style="stroke-width:0.2px">dir</text>
<text x="492.6" y="255.00" font-size="8.3" text-anchor="start" fill="#2a2a2a" dominant-baseline="central" >+</text>
<text x="497.9" y="255.0" font-size="8.3" fill="#2a2a2a" dominant-baseline="central">E</text>
<text x="504.10" y="258.40" font-size="4.4" fill="#2a2a2a" dominant-baseline="central" style="stroke-width:0.2px">g</text>
<text x="504.90" y="251.20" font-size="4.4" fill="#2a2a2a" dominant-baseline="central" style="stroke-width:0.2px">indir</text>
<text x="514.2" y="255.0" font-size="8.3" fill="#2a2a2a" dominant-baseline="central">(Ge4SAl)</text>
<rect x="309.4" y="197.5" width="229.10000000000002" height="145.8" fill="none" stroke="#a0a0a0" stroke-width="1"/>
<line x1="312.50" y1="343.3" x2="312.50" y2="341.5" stroke="#888" stroke-width="0.8"/>
<line x1="312.50" y1="197.5" x2="312.50" y2="199.3" stroke="#888" stroke-width="0.8"/>
<text x="312.50" y="349.50" font-size="7.8" text-anchor="middle" fill="#2a2a2a" dominant-baseline="central" >1.0</text>
<line x1="340.75" y1="343.3" x2="340.75" y2="342.2" stroke="#888" stroke-width="0.8"/>
<line x1="340.75" y1="197.5" x2="340.75" y2="198.6" stroke="#888" stroke-width="0.8"/>
<line x1="369.00" y1="343.3" x2="369.00" y2="341.5" stroke="#888" stroke-width="0.8"/>
<line x1="369.00" y1="197.5" x2="369.00" y2="199.3" stroke="#888" stroke-width="0.8"/>
<text x="369.00" y="349.50" font-size="7.8" text-anchor="middle" fill="#2a2a2a" dominant-baseline="central" >1.5</text>
<line x1="397.25" y1="343.3" x2="397.25" y2="342.2" stroke="#888" stroke-width="0.8"/>
<line x1="397.25" y1="197.5" x2="397.25" y2="198.6" stroke="#888" stroke-width="0.8"/>
<line x1="425.50" y1="343.3" x2="425.50" y2="341.5" stroke="#888" stroke-width="0.8"/>
<line x1="425.50" y1="197.5" x2="425.50" y2="199.3" stroke="#888" stroke-width="0.8"/>
<text x="425.50" y="349.50" font-size="7.8" text-anchor="middle" fill="#2a2a2a" dominant-baseline="central" >2.0</text>
<line x1="453.75" y1="343.3" x2="453.75" y2="342.2" stroke="#888" stroke-width="0.8"/>
<line x1="453.75" y1="197.5" x2="453.75" y2="198.6" stroke="#888" stroke-width="0.8"/>
<line x1="482.00" y1="343.3" x2="482.00" y2="341.5" stroke="#888" stroke-width="0.8"/>
<line x1="482.00" y1="197.5" x2="482.00" y2="199.3" stroke="#888" stroke-width="0.8"/>
<text x="482.00" y="349.50" font-size="7.8" text-anchor="middle" fill="#2a2a2a" dominant-baseline="central" >2.5</text>
<line x1="510.25" y1="343.3" x2="510.25" y2="342.2" stroke="#888" stroke-width="0.8"/>
<line x1="510.25" y1="197.5" x2="510.25" y2="198.6" stroke="#888" stroke-width="0.8"/>
<line x1="538.50" y1="343.3" x2="538.50" y2="341.5" stroke="#888" stroke-width="0.8"/>
<line x1="538.50" y1="197.5" x2="538.50" y2="199.3" stroke="#888" stroke-width="0.8"/>
<text x="538.50" y="349.50" font-size="7.8" text-anchor="middle" fill="#2a2a2a" dominant-baseline="central" >3.0</text>
<line x1="309.4" y1="343.30" x2="311.2" y2="343.30" stroke="#888" stroke-width="0.8"/>
<line x1="538.5" y1="343.30" x2="536.7" y2="343.30" stroke="#888" stroke-width="0.8"/>
<line x1="309.4" y1="334.13" x2="310.5" y2="334.13" stroke="#888" stroke-width="0.8"/>
<line x1="538.5" y1="334.13" x2="537.4" y2="334.13" stroke="#888" stroke-width="0.8"/>
<line x1="309.4" y1="324.97" x2="310.5" y2="324.97" stroke="#888" stroke-width="0.8"/>
<line x1="538.5" y1="324.97" x2="537.4" y2="324.97" stroke="#888" stroke-width="0.8"/>
<line x1="309.4" y1="315.80" x2="310.5" y2="315.80" stroke="#888" stroke-width="0.8"/>
<line x1="538.5" y1="315.80" x2="537.4" y2="315.80" stroke="#888" stroke-width="0.8"/>
<line x1="309.4" y1="306.63" x2="310.5" y2="306.63" stroke="#888" stroke-width="0.8"/>
<line x1="538.5" y1="306.63" x2="537.4" y2="306.63" stroke="#888" stroke-width="0.8"/>
<line x1="309.4" y1="297.47" x2="311.2" y2="297.47" stroke="#888" stroke-width="0.8"/>
<line x1="538.5" y1="297.47" x2="536.7" y2="297.47" stroke="#888" stroke-width="0.8"/>
<line x1="309.4" y1="288.30" x2="310.5" y2="288.30" stroke="#888" stroke-width="0.8"/>
<line x1="538.5" y1="288.30" x2="537.4" y2="288.30" stroke="#888" stroke-width="0.8"/>
<line x1="309.4" y1="279.13" x2="310.5" y2="279.13" stroke="#888" stroke-width="0.8"/>
<line x1="538.5" y1="279.13" x2="537.4" y2="279.13" stroke="#888" stroke-width="0.8"/>
<line x1="309.4" y1="269.96" x2="310.5" y2="269.96" stroke="#888" stroke-width="0.8"/>
<line x1="538.5" y1="269.96" x2="537.4" y2="269.96" stroke="#888" stroke-width="0.8"/>
<line x1="309.4" y1="260.80" x2="310.5" y2="260.80" stroke="#888" stroke-width="0.8"/>
<line x1="538.5" y1="260.80" x2="537.4" y2="260.80" stroke="#888" stroke-width="0.8"/>
<line x1="309.4" y1="251.63" x2="311.2" y2="251.63" stroke="#888" stroke-width="0.8"/>
<line x1="538.5" y1="251.63" x2="536.7" y2="251.63" stroke="#888" stroke-width="0.8"/>
<line x1="309.4" y1="242.46" x2="310.5" y2="242.46" stroke="#888" stroke-width="0.8"/>
<line x1="538.5" y1="242.46" x2="537.4" y2="242.46" stroke="#888" stroke-width="0.8"/>
<line x1="309.4" y1="233.30" x2="310.5" y2="233.30" stroke="#888" stroke-width="0.8"/>
<line x1="538.5" y1="233.30" x2="537.4" y2="233.30" stroke="#888" stroke-width="0.8"/>
<line x1="309.4" y1="224.13" x2="310.5" y2="224.13" stroke="#888" stroke-width="0.8"/>
<line x1="538.5" y1="224.13" x2="537.4" y2="224.13" stroke="#888" stroke-width="0.8"/>
<line x1="309.4" y1="214.96" x2="310.5" y2="214.96" stroke="#888" stroke-width="0.8"/>
<line x1="538.5" y1="214.96" x2="537.4" y2="214.96" stroke="#888" stroke-width="0.8"/>
<line x1="309.4" y1="205.80" x2="311.2" y2="205.80" stroke="#888" stroke-width="0.8"/>
<line x1="538.5" y1="205.80" x2="536.7" y2="205.80" stroke="#888" stroke-width="0.8"/>
<text x="306.79999999999995" y="343.80" font-size="7.8" text-anchor="end" fill="#2a2a2a" dominant-baseline="central" >0.0</text>
<text x="306.79999999999995" y="297.97" font-size="7.8" text-anchor="end" fill="#2a2a2a" dominant-baseline="central" >0.5</text>
<text x="306.79999999999995" y="252.13" font-size="7.8" text-anchor="end" fill="#2a2a2a" dominant-baseline="central" >1.0</text>
<text x="306.79999999999995" y="206.30" font-size="7.8" text-anchor="end" fill="#2a2a2a" dominant-baseline="central" >1.5</text>
<text x="424" y="362.90" font-size="8.4" text-anchor="middle" fill="#2a2a2a" dominant-baseline="central" >Energy (eV)</text>
<text x="0" y="0" font-size="8.4" text-anchor="middle" fill="#2a2a2a" dominant-baseline="central" transform="translate(281,266.5) rotate(-90)">Quantum efficiency</text>
</svg></body></html>
